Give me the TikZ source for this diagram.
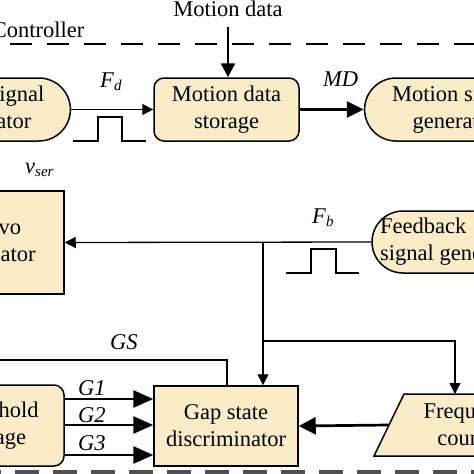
\documentclass[tikz,border=0pt]{standalone}
\usepackage{fontspec}
\setmainfont{Liberation Serif}
\usetikzlibrary{arrows.meta,shapes.misc}
\definecolor{boxfill}{RGB}{249,236,199}
\definecolor{dashgray}{RGB}{80,80,80}
\newcommand{\itsub}[2]{\textit{#1}\raisebox{-0.35ex}{\fontsize{15}{15}\selectfont\textit{#2}}}
\begin{document}
\begin{tikzpicture}[x=1pt,y=-1pt,
  every node/.style={font=\fontsize{22.5}{27}\selectfont, inner sep=0pt},
  boxstyle/.style={draw=black, line width=1.5pt, fill=boxfill, align=center},
  lbl/.style={anchor=base west},
  thinarrow/.style={line width=1.3pt, -{Triangle[length=11pt,width=11pt]}},
  thickarrow/.style={line width=2.7pt, -{Triangle[length=20pt,width=17pt]}},
  thickline/.style={line width=2.5pt},
  pulse/.style={line width=1.3pt},
]
\clip (0,0) rectangle (474,474);
\fill[white] (0,0) rectangle (474,474);

% dashed borders
\draw[line width=1.5pt, dash pattern=on 22pt off 15pt] (-27,44) -- (500,44);
\draw[line width=8pt, dashgray, dash pattern=on 24pt off 14pt] (-23,474) -- (500,474);

% texts outside boxes
\node[anchor=base] (ctrl) at (38,37) {Controller};
\node[anchor=base] (mdata) at (228,16) {Motion data};

% nodes
\node[boxstyle, rounded rectangle, rounded rectangle left arc=none,
      minimum width=152pt, minimum height=63pt] (sig) at (-11,109.5) {Drive signal\\generator};
\node[boxstyle, rounded corners=10pt, minimum width=145pt, minimum height=63pt]
      (store) at (226.5,109.5) {Motion data\\storage};
\node[boxstyle, rounded rectangle, rounded rectangle right arc=none,
      minimum width=170pt, minimum height=63pt] (msg) at (455,109.5) {Motion signal\\generator};
\node[boxstyle, minimum width=138pt, minimum height=103pt] (servo) at (-5,242.5) {Servo\\regulator};
\node[boxstyle, rounded rectangle, rounded rectangle right arc=none,
      minimum width=200pt, minimum height=62pt] (fb) at (472,242) {};
\node[align=left, anchor=west] (fbtext) at (380,242) {Feedback\\signal generator};
\node[boxstyle, rounded corners=10pt, minimum width=142pt, minimum height=81pt]
      (thr) at (-7,425.5) {Threshold\\voltage};
\node[boxstyle, minimum width=144pt, minimum height=80pt] (gap) at (226,426) {Gap state\\discriminator};
\draw[line width=1.5pt, fill=boxfill] (374,456) -- (404,394) -- (560,394) -- (590,456) -- cycle;
\node[align=center] (freq) at (471,425) {Frequency\\counter};
\coordinate (freqin) at (389,425);
\coordinate (freqtop) at (455,394);

% labels
\node[lbl] (fdl) at (100,87) {\itsub{F}{d}};
\node[lbl] (mdl) at (323,86) {\textit{MD}};
\node[lbl] (vser) at (25,173) {\itsub{v}{ser}};
\node[lbl] (fbl) at (312,223) {\itsub{F}{b}};
\node[lbl] (gsl) at (110,349) {\textit{GS}};
\node[lbl] (g1l) at (78,395) {\textit{G1}};
\node[lbl] (g2l) at (78,422) {\textit{G2}};
\node[lbl] (g3l) at (78,450) {\textit{G3}};

% pulses
\draw[pulse] (73,141) -- (98,141) -- (98,117) -- (122,117) -- (122,141) -- (146,141);
\draw[pulse] (286,273) -- (311,273) -- (311,249) -- (336,249) -- (336,273) -- (359,273);

% connectors
\draw[thinarrow] (sig.east) -- (store.west);
\draw[line width=2.2pt, -{Triangle[length=14pt,width=14pt]}] ([yshift=-11pt]mdata.base) -- (mdata.base |- store.north);
\draw[thickarrow, -{Triangle[length=17pt,width=16pt]}] (store.east) -- (msg.west);

\coordinate (j1) at (263,242);
\coordinate (j2) at (263,341);
\draw[thinarrow] (fb.west) -- (servo.east);
\draw[thinarrow] (j1) -- (j1 |- gap.north);
\draw[thinarrow] (j2) -| (freqtop);
\draw[thickarrow, -{Triangle[length=17pt,width=17pt]}] (freqin) -- (gap.east);

\coordinate (gsx) at (227,360);
\coordinate (gsend) at (-10,360);
\draw[thickline] (gsx |- gap.north) -- (gsx) -- (gsend);

\coordinate (g1) at (0,399);
\coordinate (g2) at (0,425);
\coordinate (g3) at (0,455);
\draw[thickarrow] (thr.east |- g1) -- (gap.west |- g1);
\draw[thickarrow] (thr.east |- g2) -- (gap.west |- g2);
\draw[thickarrow] (thr.east |- g3) -- (gap.west |- g3);
\end{tikzpicture}
\end{document}
